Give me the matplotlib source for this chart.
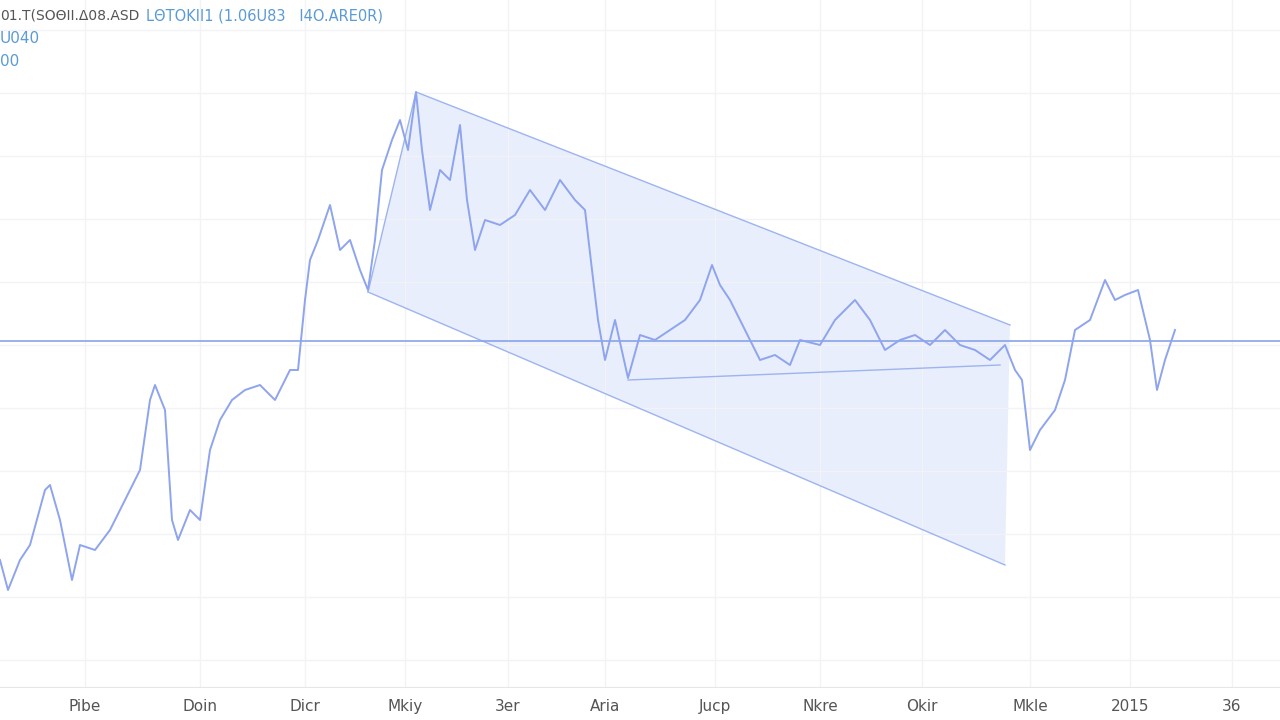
import matplotlib
matplotlib.use("Agg")
import matplotlib.pyplot as plt

# price path (x position, price level)
px = [0,8,20,30,45,50,60,72,80,95,110,125,140,150,155,165,172,178,190,200,210,220,232,245,260,275,290,298,305,310,318,330,340,350,360,368,375,382,392,400,408,416,422,430,440,450,460,467,475,485,500,515,530,545,560,575,585,592,598,605,615,628,640,655,670,685,700,712,720,730,745,760,775,790,800,820,835,855,870,885,900,915,930,945,960,975,990,1005,1015,1022,1030,1040,1055,1065,1075,1090,1105,1115,1125,1138,1150,1157,1165,1175]
py = [560,590,560,545,490,485,520,580,545,550,530,500,470,400,385,410,520,540,510,520,450,420,400,390,385,400,370,370,300,260,240,205,250,240,270,290,240,170,140,120,150,92,150,210,170,180,125,200,250,220,225,215,190,210,180,200,210,270,320,360,320,378,335,340,330,320,300,265,285,300,330,360,355,365,340,345,320,300,320,350,340,335,345,330,345,350,360,345,370,380,450,430,410,380,330,320,280,300,295,290,340,390,360,330]
price = [720 - v for v in py]

channel_x = [368, 416, 1010, 1005]
channel_y = [720-292, 720-92, 720-325, 720-565]
inner_x = [628, 1000]
inner_y = [720-380, 720-365]
level = 720 - 341
xticks = [85,200,305,405,508,605,715,820,922,1030,1130,1232]
xlabels = ["Pibe","Doin","Dicr","Mkiy","3er","Aria","Jucp","Nkre","Okir","Mkle","2015","36"]

fig = plt.figure(figsize=(12.8,7.2), dpi=100)
ax = fig.add_axes([0, 32/720, 1, 688/720])
ax.set_xlim(0,1280); ax.set_ylim(32,720)
for s in ax.spines.values(): s.set_visible(False)
ax.set_xticks(xticks); ax.set_xticklabels(xlabels, color="#555555", fontsize=11)
ax.set_yticks(range(60,720,63)); ax.set_yticklabels([])
ax.tick_params(length=0, pad=8)
ax.grid(color="#f2f3f6", lw=1)
ax.axhline(32, color="#e6e6e6", lw=1.5)

ax.fill(channel_x, channel_y, color="#dfe8fb", alpha=0.7, lw=0)
ax.plot(channel_x[:3], channel_y[:3], color="#9db4ee", lw=1)
ax.plot([channel_x[0], channel_x[3]], [channel_y[0], channel_y[3]], color="#9db4ee", lw=1)
ax.plot(inner_x, inner_y, color="#9db4ee", lw=1)
ax.axhline(level, color="#8aa3ea", lw=1.2)
ax.plot(px, price, color="#8ea4ee", lw=1.4)

fig.text(0.0, 0.978, "01.T(SOΘII.Δ08.ASD", color="#555555", fontsize=10, va="center")
fig.text(0.114, 0.978, "LΘTOKII1 (1.06U83   I4O.ARE0R)", color="#5b9bd5", fontsize=10.5, va="center")
fig.text(0.0, 0.946, "U040", color="#5b9bd5", fontsize=11, va="center")
fig.text(0.0, 0.915, "00", color="#5b9bd5", fontsize=11, va="center")
fig.savefig("out.png")
